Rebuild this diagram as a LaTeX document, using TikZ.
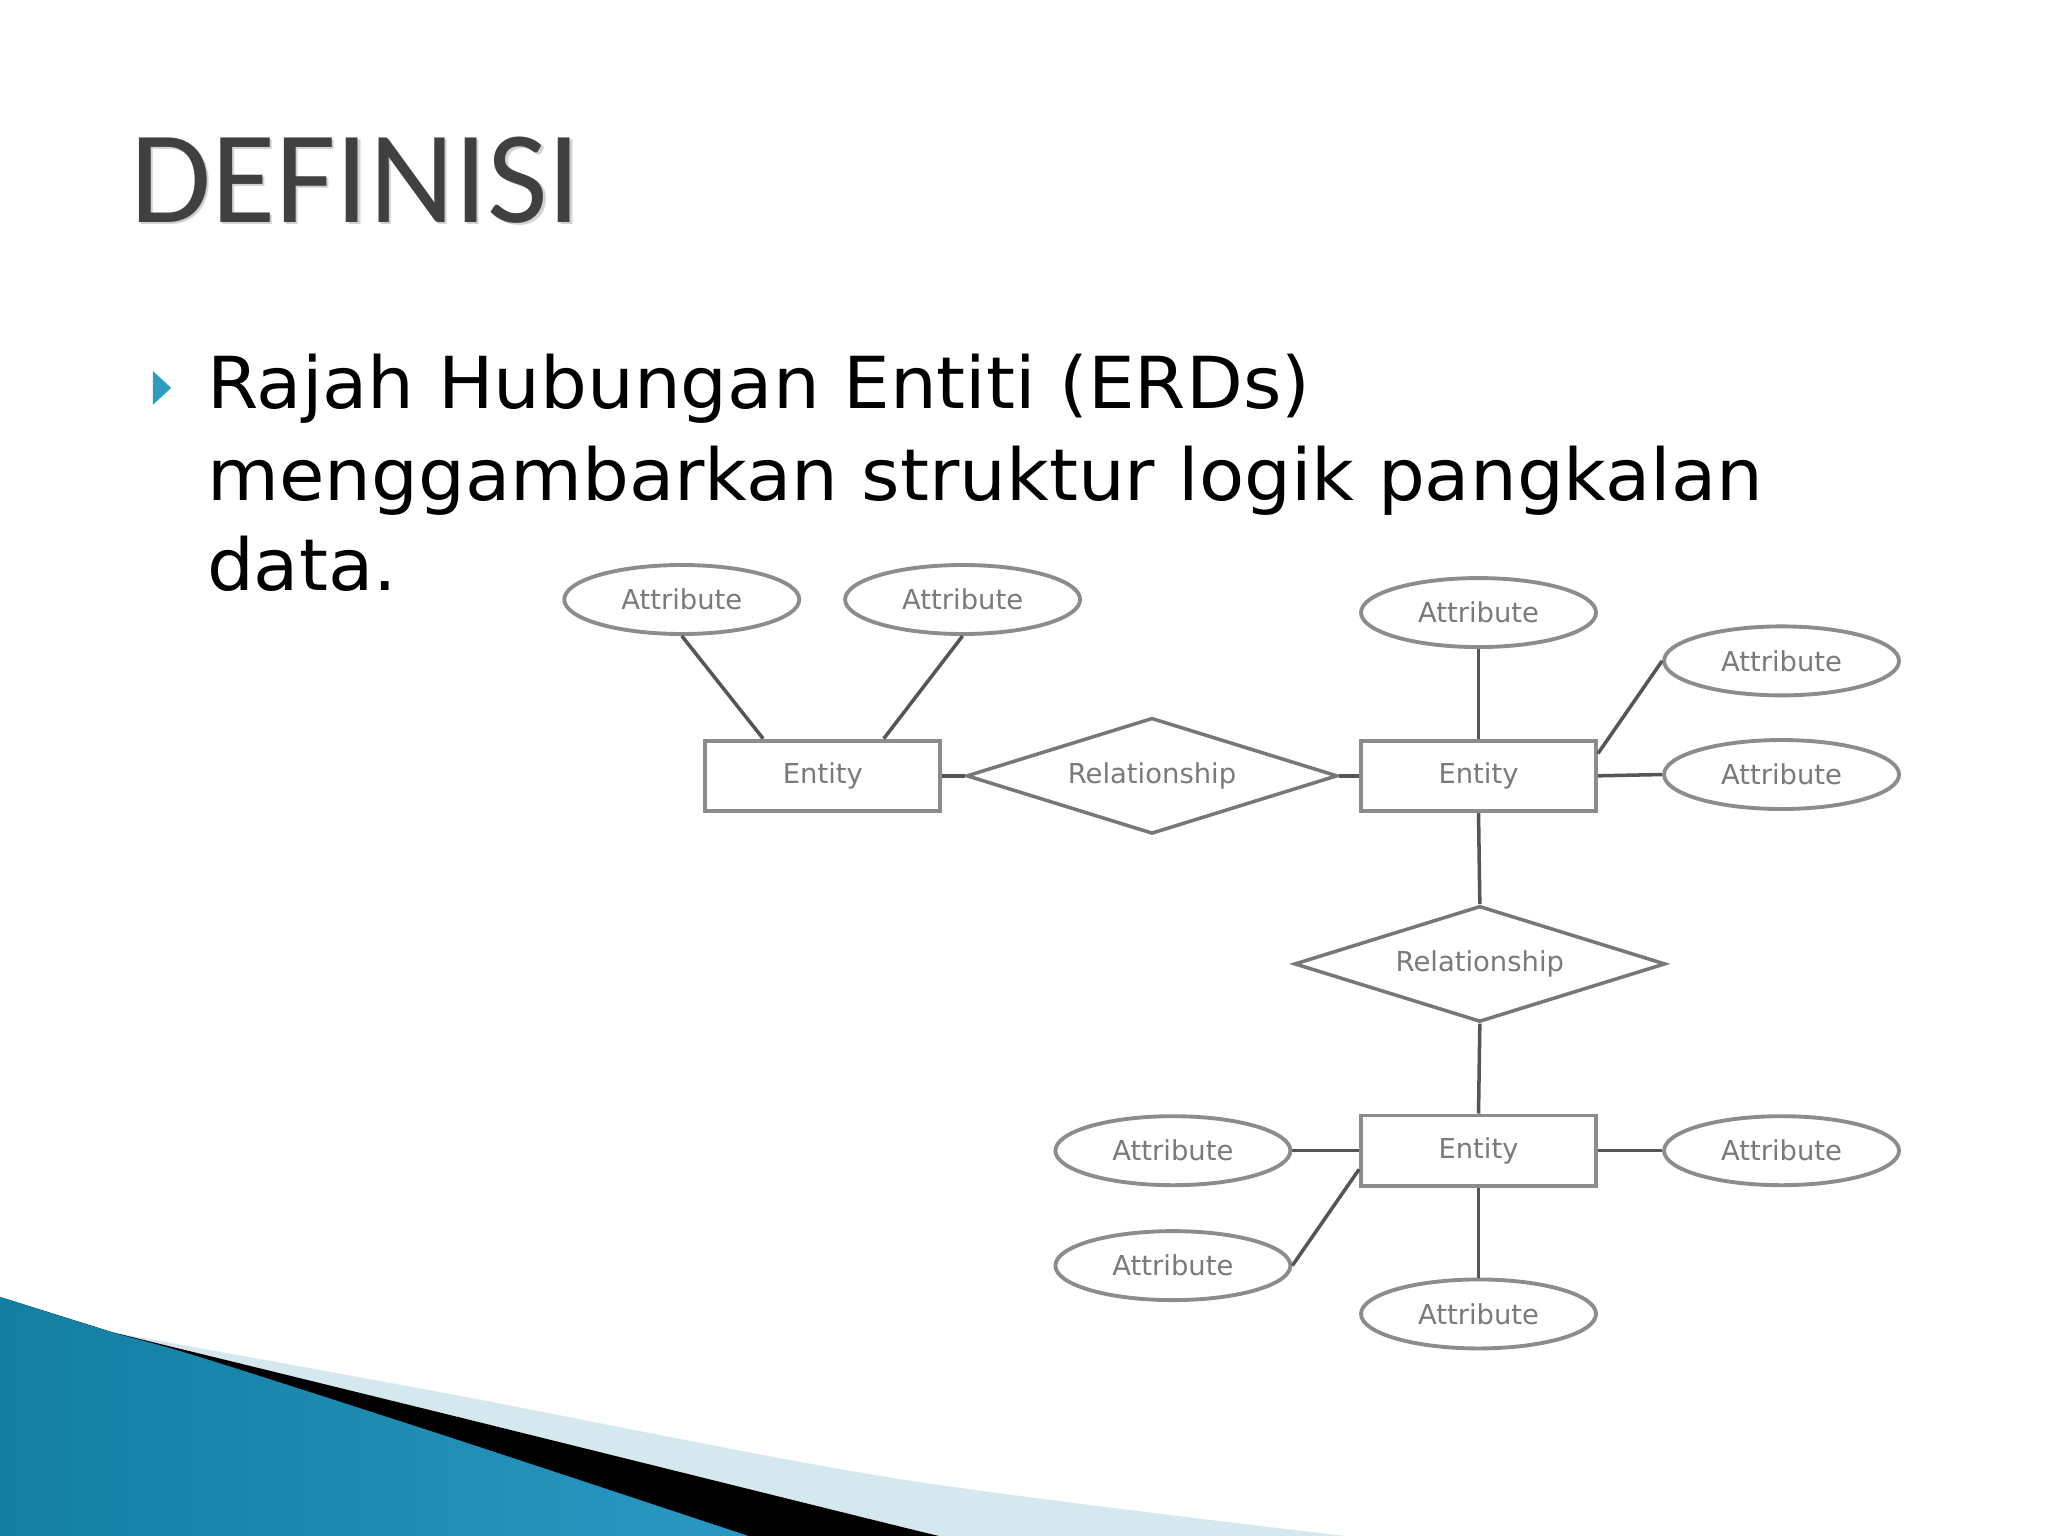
\documentclass[tikz,border=0pt]{standalone}
\usepackage{fontspec}
\usetikzlibrary{shapes.geometric,calc}
\newfontfamily\titlefont{Carlito}
\newfontfamily\bodyfont[FakeStretch=1.03]{DejaVu Sans}
\newfontfamily\erfont{DejaVu Sans}
\definecolor{titlegray}{HTML}{404040}
\definecolor{bullteal}{HTML}{2E9CBE}
\definecolor{ertext}{HTML}{7A7A7A}
\definecolor{erline}{HTML}{555555}
\definecolor{erbox}{HTML}{8C8C8C}
\definecolor{lightband}{HTML}{D5E7EF}
\definecolor{tealA}{HTML}{137EA2}
\definecolor{tealB}{HTML}{55BADE}
\definecolor{tealC}{HTML}{2A98C2}
\begin{document}
\begin{tikzpicture}[x=0.0130612cm, y=-0.0130612cm,
  erlabel/.style={font={\erfont\fontsize{7.8pt}{9pt}\selectfont}, text=ertext},
  attr/.style={ellipse, draw=erbox, line width=1.1pt, minimum width=2.35cm, minimum height=0.69cm, inner sep=0pt, erlabel},
  ent/.style={rectangle, draw=erbox, line width=1.1pt, minimum width=2.35cm, minimum height=0.705cm, inner sep=0pt, erlabel},
  rel/.style={diamond, draw=erline!80, line width=1pt, shape aspect=3.2, minimum width=3.71cm, minimum height=1.16cm, inner sep=0pt, erlabel},
  conn/.style={draw=erline, line width=1pt},
  bodyline/.style={anchor=base west, inner sep=0pt, font={\bodyfont\fontsize{20.4pt}{24pt}\selectfont}, text=black}
]
\useasboundingbox (0,0) rectangle (1568,1176);
\fill[white] (0,0) rectangle (1568,1176);

% bottom decoration
\fill[lightband] plot[smooth] coordinates {(86,1020) (343,1067) (686,1132) (1030,1176)} -- (0,1176) -- (0,993) -- cycle;
\fill[black] plot[smooth] coordinates {(86,1020) (343,1083) (686,1168) (720,1176)} -- (0,1176) -- (0,993) -- cycle;
\shade[left color=tealA, middle color=tealB, right color=tealC]
  plot[smooth] coordinates {(0,993) (86,1020) (153,1039) (343,1100) (573,1176)} -- (0,1176) -- cycle;

% title
\node[anchor=base west, inner sep=0pt, font={\titlefont\fontsize{37.5pt}{40pt}\selectfont}, text=black!18] (tshadow) at (101,172) {DEFINISI};
\node[anchor=base west, inner sep=0pt, font={\titlefont\fontsize{37.5pt}{40pt}\selectfont}, text=titlegray] (title) at (99,170) {DEFINISI};

% bullet and body
\fill[bullteal] (117,284) -- (131,297) -- (117,310) -- cycle;
\node[bodyline] (l1) at (158,313) {Rajah Hubungan Entiti (ERDs)};
\node[bodyline] (l2) at (158,383) {menggambarkan struktur logik pangkalan};
\node[bodyline] (l3) at (158,452) {data.};

% ER diagram
\node[attr] (a1) at (522,459) {Attribute};
\node[attr] (a2) at (737,459) {Attribute};
\node[ent]  (e1) at (630,594) {Entity};
\node[rel]  (r1) at (882,594) {Relationship};
\node[ent]  (e2) at (1132,594) {Entity};
\node[attr] (a3) at (1132,469) {Attribute};
\node[attr] (a4) at (1364,506) {Attribute};
\node[attr] (a5) at (1364,593) {Attribute};
\node[rel]  (r2) at (1133,738) {Relationship};
\node[ent]  (e3) at (1132,881) {Entity};
\node[attr] (a6) at (898,881) {Attribute};
\node[attr] (a7) at (898,969) {Attribute};
\node[attr] (a8) at (1364,881) {Attribute};
\node[attr] (a9) at (1132,1006) {Attribute};

\draw[conn] (a1.south) -- ($(e1.north west)!0.25!(e1.north east)$);
\draw[conn] (a2.south) -- ($(e1.north west)!0.755!(e1.north east)$);
\draw[conn] (e1.east) -- (r1.west);
\draw[conn] (r1.east) -- (e2.west);
\draw[conn] (a3.south) -- (e2.north);
\draw[conn] ($(e2.north east)!0.2!(e2.south east)$) -- (a4.west);
\draw[conn] (e2.east) -- (a5.west);
\draw[conn] (e2.south) -- (r2.north);
\draw[conn] (r2.south) -- (e3.north);
\draw[conn] (a6.east) -- (e3.west);
\draw[conn] (a7.east) -- ($(e3.north west)!0.75!(e3.south west)$);
\draw[conn] (e3.east) -- (a8.west);
\draw[conn] (e3.south) -- (a9.north);
\end{tikzpicture}
\end{document}
